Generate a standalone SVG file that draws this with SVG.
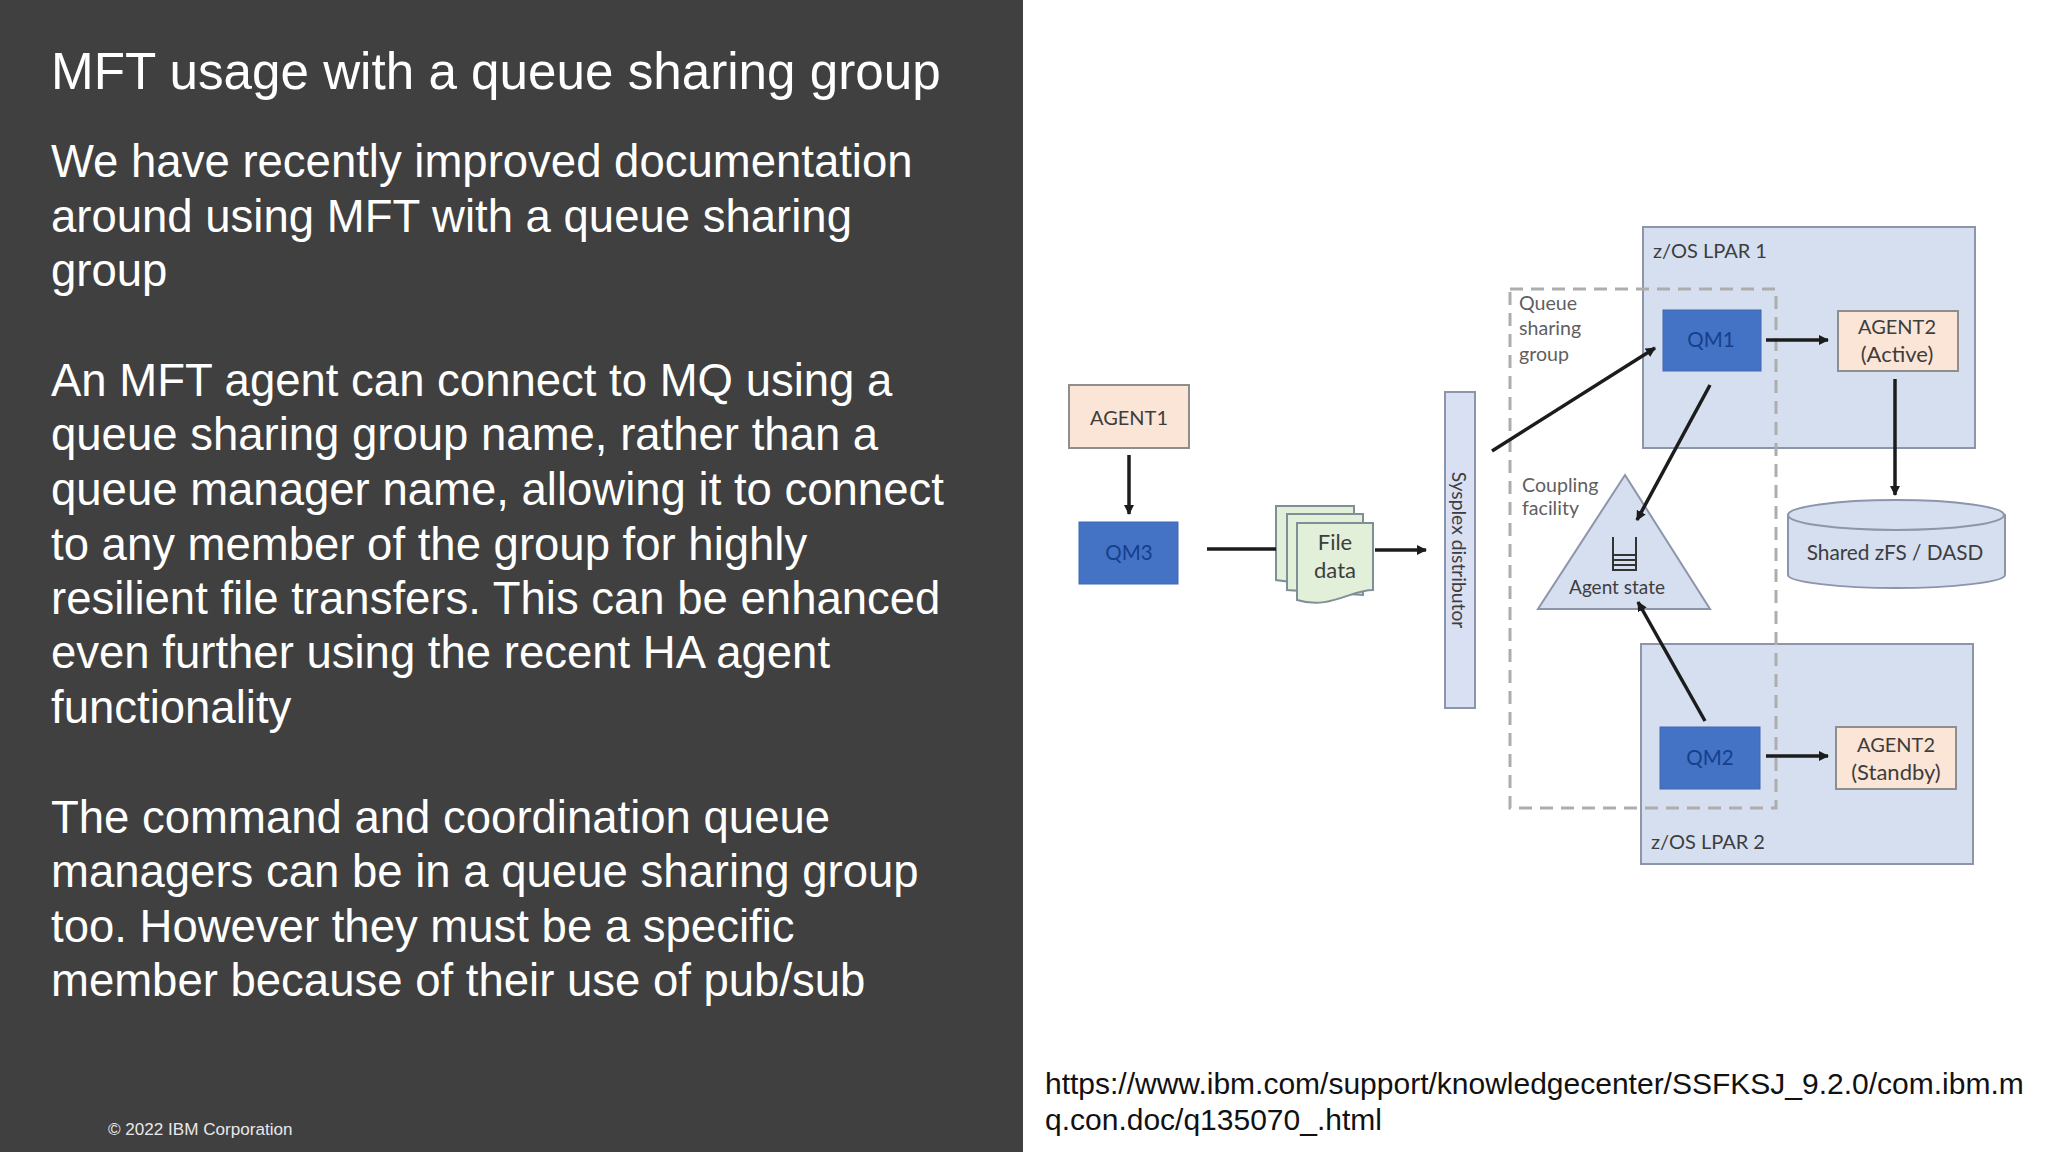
<svg xmlns="http://www.w3.org/2000/svg" width="2048" height="1152" viewBox="0 0 2048 1152">
<style>
.body{font-family:"Liberation Sans",Arial,sans-serif;font-size:45.5px;fill:#fff}
.d{font-family:Lato,"Open Sans",sans-serif;font-size:22px;fill:#3d3d3d}
.cap{font-size:20px}
.m{text-anchor:middle}
.gr{fill:#5f5f5f;font-size:19.6px}
.qm{fill:#163f8c;font-size:20.5px;text-anchor:middle}
.agent{fill:#fbe5d6;stroke:#8e8e8e;stroke-width:2}
.qbox{fill:#4472c4;stroke:#3f68b0;stroke-width:1}
.lpar{fill:#d6dff0;stroke:#8c95aa;stroke-width:2}
.lpage{fill:#e2f0d9;stroke:#7f8f96;stroke-width:2}
.c{stroke:#1c1c1c;stroke-width:3.5;fill:none;marker-end:url(#a)}
.nc{stroke:#1c1c1c;stroke-width:3.5;fill:none}
</style>
<defs><marker id="a" markerUnits="userSpaceOnUse" markerWidth="12" markerHeight="12" refX="9" refY="5" orient="auto"><path d="M0 0L10 5L0 10Z" fill="#1c1c1c"/></marker></defs>
<rect width="2048" height="1152" fill="#fff"/>
<g id="panel">
<rect width="1023" height="1152" fill="#404040"/>
<text x="51" y="89" font-family="Liberation Sans" font-size="51.2" fill="#fff">MFT usage with a queue sharing group</text>
<text class="body" x="51"><tspan x="51" y="177">We have recently improved documentation</tspan><tspan x="51" y="231.5">around using MFT with a queue sharing</tspan><tspan x="51" y="286">group</tspan><tspan x="51" y="395.5">An MFT agent can connect to MQ using a</tspan><tspan x="51" y="450">queue sharing group name, rather than a</tspan><tspan x="51" y="504.5">queue manager name, allowing it to connect</tspan><tspan x="51" y="559.5">to any member of the group for highly</tspan><tspan x="51" y="613.5">resilient file transfers. This can be enhanced</tspan><tspan x="51" y="668">even further using the recent HA agent</tspan><tspan x="51" y="722.5">functionality</tspan><tspan x="51" y="832.5">The command and coordination queue</tspan><tspan x="51" y="887">managers can be in a queue sharing group</tspan><tspan x="51" y="941.5">too. However they must be a specific</tspan><tspan x="51" y="996">member because of their use of pub/sub</tspan></text>
<text x="108" y="1135" font-family="Liberation Sans" font-size="17.1" fill="#e8e8e8">© 2022 IBM Corporation</text>
</g>
<g id="url"><text font-family="Liberation Sans" font-size="30" fill="#111"><tspan x="1045" y="1094">https://www.ibm.com/support/knowledgecenter/SSFKSJ_9.2.0/com.ibm.m</tspan><tspan x="1045" y="1130">q.con.doc/q135070_.html</tspan></text></g>
<g id="lpar1"><rect class="lpar" x="1643" y="227" width="332" height="221"/><text class="d cap" x="1653" y="258">z/OS LPAR 1</text></g>
<g id="lpar2"><rect class="lpar" x="1641" y="644" width="332" height="220"/><text class="d cap" x="1651" y="849">z/OS LPAR 2</text></g>
<g id="qsg"><rect x="1510" y="289" width="266" height="519" fill="none" stroke="#adadad" stroke-width="3" stroke-dasharray="13 8"/><text class="d gr"><tspan x="1519" y="310">Queue</tspan><tspan x="1519" y="335">sharing</tspan><tspan x="1519" y="361">group</tspan></text></g>
<g id="agent1"><rect class="agent" x="1069" y="385" width="120" height="63"/><text class="d m cap" x="1129" y="425">AGENT1</text></g>
<g id="qm3"><rect class="qbox" x="1079" y="522" width="99" height="62"/><text class="qm d" x="1129" y="560">QM3</text></g>
<g id="file-data"><path class="lpage" d="M1276 506H1354V590L1276 580Z"/><path class="lpage" d="M1287 514H1363V595L1287 590Z"/><path class="lpage" d="M1297 523H1373V590C1350 590 1330 610 1297 600Z"/><text class="d m" x="1335" y="550">File</text><text class="d m" x="1335" y="578">data</text></g>
<g id="sysplex"><rect x="1445" y="392" width="30" height="316" fill="#dae0f3" stroke="#8c95aa" stroke-width="2"/><text class="d m" style="font-size:19.3px" transform="translate(1452 550) rotate(90)">Sysplex distributor</text></g>
<g id="qm1"><rect class="qbox" x="1663" y="310" width="98" height="61"/><text class="qm d" x="1711" y="347">QM1</text></g>
<g id="agent2-active"><rect class="agent" x="1838" y="311" width="120" height="60"/><text class="d m cap" x="1897" y="334">AGENT2</text><text class="d m" x="1897" y="362">(Active)</text></g>
<g id="qm2"><rect class="qbox" x="1660" y="727" width="100" height="62"/><text class="qm d" x="1710" y="765">QM2</text></g>
<g id="agent2-standby"><rect class="agent" x="1836" y="727" width="120" height="62"/><text class="d m cap" x="1896" y="752">AGENT2</text><text class="d m" x="1896" y="780">(Standby)</text></g>
<g id="cf"><path d="M1625 475L1710 609H1538Z" fill="#d6dff0" stroke="#8c95aa" stroke-width="2"/><path d="M1613 537V570H1636V537M1613 555H1636M1613 560H1636M1613 565H1636" fill="none" stroke="#333" stroke-width="2"/><text class="d m" style="font-size:19px" x="1617" y="594">Agent state</text><text class="d gr"><tspan x="1522" y="492">Coupling</tspan><tspan x="1522" y="515">facility</tspan></text></g>
<g id="zfs"><path d="M1788 515V575C1788 582 1840 588 1896 588S2005 582 2005 575V515Z" fill="#d6dff0" stroke="#8c95aa" stroke-width="2"/><ellipse cx="1896" cy="515" rx="108" ry="15" fill="#d6dff0" stroke="#8c95aa" stroke-width="2"/><text class="d m" style="font-size:20.8px" x="1895" y="560">Shared zFS / DASD</text></g>
<g id="connectors">
<path class="c" d="M1129 455V514"/>
<path class="nc" d="M1207 549H1276"/>
<path class="c" d="M1375 550H1426"/>
<path class="c" d="M1492 451L1655 348"/>
<path class="c" d="M1710 385L1637 520"/>
<path class="c" d="M1705 721L1638 602"/>
<path class="c" d="M1766 340H1828"/>
<path class="c" d="M1766 756H1828"/>
<path class="c" d="M1895 379V495"/>
</g>
</svg>
